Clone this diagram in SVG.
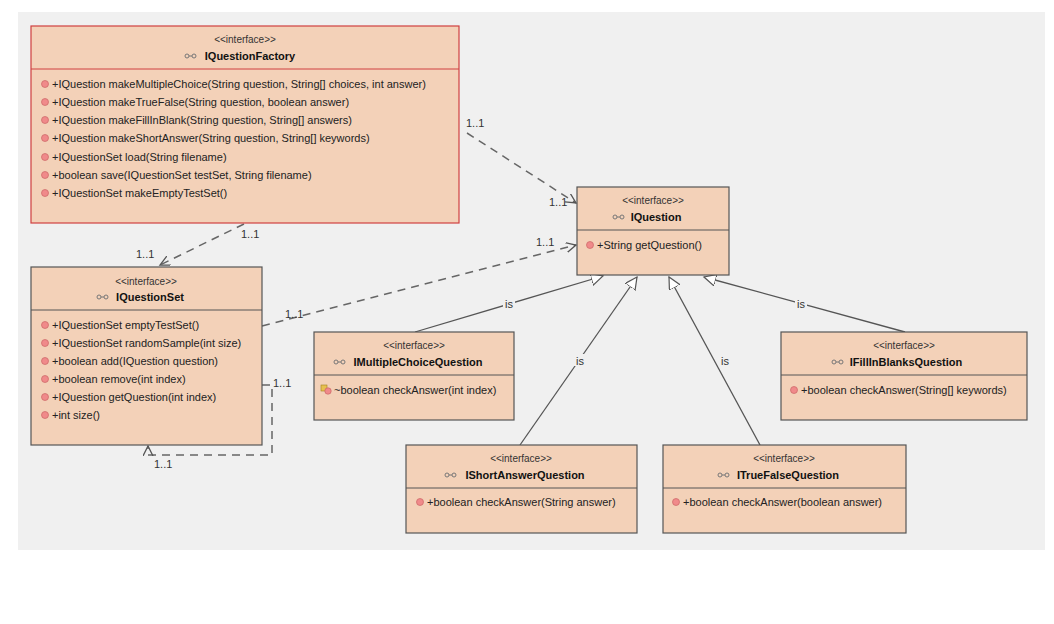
<svg xmlns="http://www.w3.org/2000/svg" width="1054" height="624" viewBox="0 0 1054 624">
<style>
text{font-family:"Liberation Sans",Arial,sans-serif;font-size:11px;fill:#222}
.st{font-size:10px;text-anchor:middle;fill:#333}
.nm{font-weight:bold;text-anchor:middle;fill:#111}
.box{fill:#f3d1b8;stroke:#555;stroke-width:1.2}
.red{stroke:#d04040}
.sep{stroke:#555;stroke-width:1}
.dash{fill:none;stroke:#666;stroke-width:1.5;stroke-dasharray:8,6}
.gen{fill:none;stroke:#555;stroke-width:1.3}
.lbl{font-size:11px;fill:#333}
.dot{fill:#f08a8a;stroke:#c66;stroke-width:.7}
.ic{fill:none;stroke:#777;stroke-width:1}
</style>
<defs>
<marker id="open" markerWidth="12" markerHeight="12" refX="10" refY="5" orient="auto" markerUnits="userSpaceOnUse"><path d="M0,0 L10,5 L0,10" fill="none" stroke="#555" stroke-width="1.3"/></marker>
<marker id="tri" markerWidth="14" markerHeight="14" refX="12" refY="6" orient="auto" markerUnits="userSpaceOnUse"><path d="M0,0 L12,6 L0,12 Z" fill="#fff" stroke="#555" stroke-width="1.2"/></marker>
<g id="icon"><circle cx="0" cy="0" r="2" class="ic"/><line x1="2" y1="0" x2="5" y2="0" class="ic"/><circle cx="7" cy="0" r="2" class="ic"/></g>
</defs>
<rect x="18" y="12" width="1027" height="538" fill="#f0f0f0"/>
<g id="connectors">
<path class="dash" d="M467,133 L576,203" marker-end="url(#open)"/>
<path class="dash" d="M244,224 L160,265" marker-end="url(#open)"/>
<path class="dash" d="M262,326 L576,245" marker-end="url(#open)"/>
<path class="dash" d="M262,385 L272,385 L272,455 L148,455 L148,446" marker-end="url(#open)"/>
<path class="gen" d="M415,332 L603,276" marker-end="url(#tri)"/>
<path class="gen" d="M520,445 L637,277" marker-end="url(#tri)"/>
<path class="gen" d="M760,445 L669,277" marker-end="url(#tri)"/>
<path class="gen" d="M905,332 L704,277" marker-end="url(#tri)"/>
<text class="lbl" x="466" y="127">1..1</text>
<text class="lbl" x="549" y="206">1..1</text>
<text class="lbl" x="241" y="238">1..1</text>
<text class="lbl" x="136" y="258">1..1</text>
<text class="lbl" x="285" y="318">1..1</text>
<text class="lbl" x="536" y="246">1..1</text>
<text class="lbl" x="273" y="387">1..1</text>
<text class="lbl" x="154" y="468">1..1</text>
<rect x="503" y="297" width="12" height="12" fill="#f0f0f0"/><text class="lbl" x="505" y="308">is</text>
<rect x="574" y="354" width="12" height="12" fill="#f0f0f0"/><text class="lbl" x="576" y="365">is</text>
<rect x="719" y="354" width="12" height="12" fill="#f0f0f0"/><text class="lbl" x="721" y="365">is</text>
<rect x="795" y="297" width="12" height="12" fill="#f0f0f0"/><text class="lbl" x="797" y="308">is</text>
</g>
<g id="IQuestionFactory">
<rect class="box red" x="31" y="26" width="428" height="197"/>
<line class="red" x1="31" y1="69" x2="459" y2="69" stroke-width="1"/>
<text class="st" x="245" y="43">&lt;&lt;interface&gt;&gt;</text>
<use href="#icon" x="187" y="56"/><text class="nm" x="250" y="60">IQuestionFactory</text>
<circle class="dot" cx="45" cy="84" r="3.5"/><text x="52" y="88">+IQuestion makeMultipleChoice(String question, String[] choices, int answer)</text>
<circle class="dot" cx="45" cy="102" r="3.5"/><text x="52" y="106">+IQuestion makeTrueFalse(String question, boolean answer)</text>
<circle class="dot" cx="45" cy="120" r="3.5"/><text x="52" y="124">+IQuestion makeFillInBlank(String question, String[] answers)</text>
<circle class="dot" cx="45" cy="138" r="3.5"/><text x="52" y="142">+IQuestion makeShortAnswer(String question, String[] keywords)</text>
<circle class="dot" cx="45" cy="157" r="3.5"/><text x="52" y="161">+IQuestionSet load(String filename)</text>
<circle class="dot" cx="45" cy="175" r="3.5"/><text x="52" y="179">+boolean save(IQuestionSet testSet, String filename)</text>
<circle class="dot" cx="45" cy="193" r="3.5"/><text x="52" y="197">+IQuestionSet makeEmptyTestSet()</text>
</g>
<g id="IQuestionSet">
<rect class="box" x="31" y="267" width="231" height="178"/>
<line class="sep" x1="31" y1="310" x2="262" y2="310"/>
<text class="st" x="146" y="285">&lt;&lt;interface&gt;&gt;</text>
<use href="#icon" x="99" y="297"/><text class="nm" x="150" y="301">IQuestionSet</text>
<circle class="dot" cx="45" cy="325" r="3.5"/><text x="52" y="329">+IQuestionSet emptyTestSet()</text>
<circle class="dot" cx="45" cy="343" r="3.5"/><text x="52" y="347">+IQuestionSet randomSample(int size)</text>
<circle class="dot" cx="45" cy="361" r="3.5"/><text x="52" y="365">+boolean add(IQuestion question)</text>
<circle class="dot" cx="45" cy="379" r="3.5"/><text x="52" y="383">+boolean remove(int index)</text>
<circle class="dot" cx="45" cy="397" r="3.5"/><text x="52" y="401">+IQuestion getQuestion(int index)</text>
<circle class="dot" cx="45" cy="415" r="3.5"/><text x="52" y="419">+int size()</text>
</g>
<g id="IQuestion">
<rect class="box" x="577" y="187" width="152" height="88"/>
<line class="sep" x1="577" y1="230" x2="729" y2="230"/>
<text class="st" x="653" y="204">&lt;&lt;interface&gt;&gt;</text>
<use href="#icon" x="615" y="217"/><text class="nm" x="656" y="221">IQuestion</text>
<circle class="dot" cx="590" cy="245" r="3.5"/><text x="597" y="249">+String getQuestion()</text>
</g>
<g id="IMultipleChoiceQuestion">
<rect class="box" x="314" y="332" width="200" height="88"/>
<line class="sep" x1="314" y1="375" x2="514" y2="375"/>
<text class="st" x="414" y="349">&lt;&lt;interface&gt;&gt;</text>
<use href="#icon" x="336" y="362"/><text class="nm" x="418" y="366">IMultipleChoiceQuestion</text>
<rect x="321" y="385" width="6" height="6" fill="#e8c050" stroke="#a08020" stroke-width=".6"/>
<circle class="dot" cx="328" cy="391" r="3.2"/><text x="334" y="394">~boolean checkAnswer(int index)</text>
</g>
<g id="IFillInBlanksQuestion">
<rect class="box" x="781" y="332" width="246" height="88"/>
<line class="sep" x1="781" y1="375" x2="1027" y2="375"/>
<text class="st" x="904" y="349">&lt;&lt;interface&gt;&gt;</text>
<use href="#icon" x="834" y="362"/><text class="nm" x="906" y="366">IFillInBlanksQuestion</text>
<circle class="dot" cx="794" cy="390" r="3.5"/><text x="801" y="394">+boolean checkAnswer(String[] keywords)</text>
</g>
<g id="IShortAnswerQuestion">
<rect class="box" x="406" y="445" width="231" height="88"/>
<line class="sep" x1="406" y1="488" x2="637" y2="488"/>
<text class="st" x="521" y="462">&lt;&lt;interface&gt;&gt;</text>
<use href="#icon" x="447" y="475"/><text class="nm" x="525" y="479">IShortAnswerQuestion</text>
<circle class="dot" cx="420" cy="502" r="3.5"/><text x="427" y="506">+boolean checkAnswer(String answer)</text>
</g>
<g id="ITrueFalseQuestion">
<rect class="box" x="663" y="445" width="243" height="88"/>
<line class="sep" x1="663" y1="488" x2="906" y2="488"/>
<text class="st" x="784" y="462">&lt;&lt;interface&gt;&gt;</text>
<use href="#icon" x="720" y="475"/><text class="nm" x="788" y="479">ITrueFalseQuestion</text>
<circle class="dot" cx="676" cy="502" r="3.5"/><text x="683" y="506">+boolean checkAnswer(boolean answer)</text>
</g>
</svg>
